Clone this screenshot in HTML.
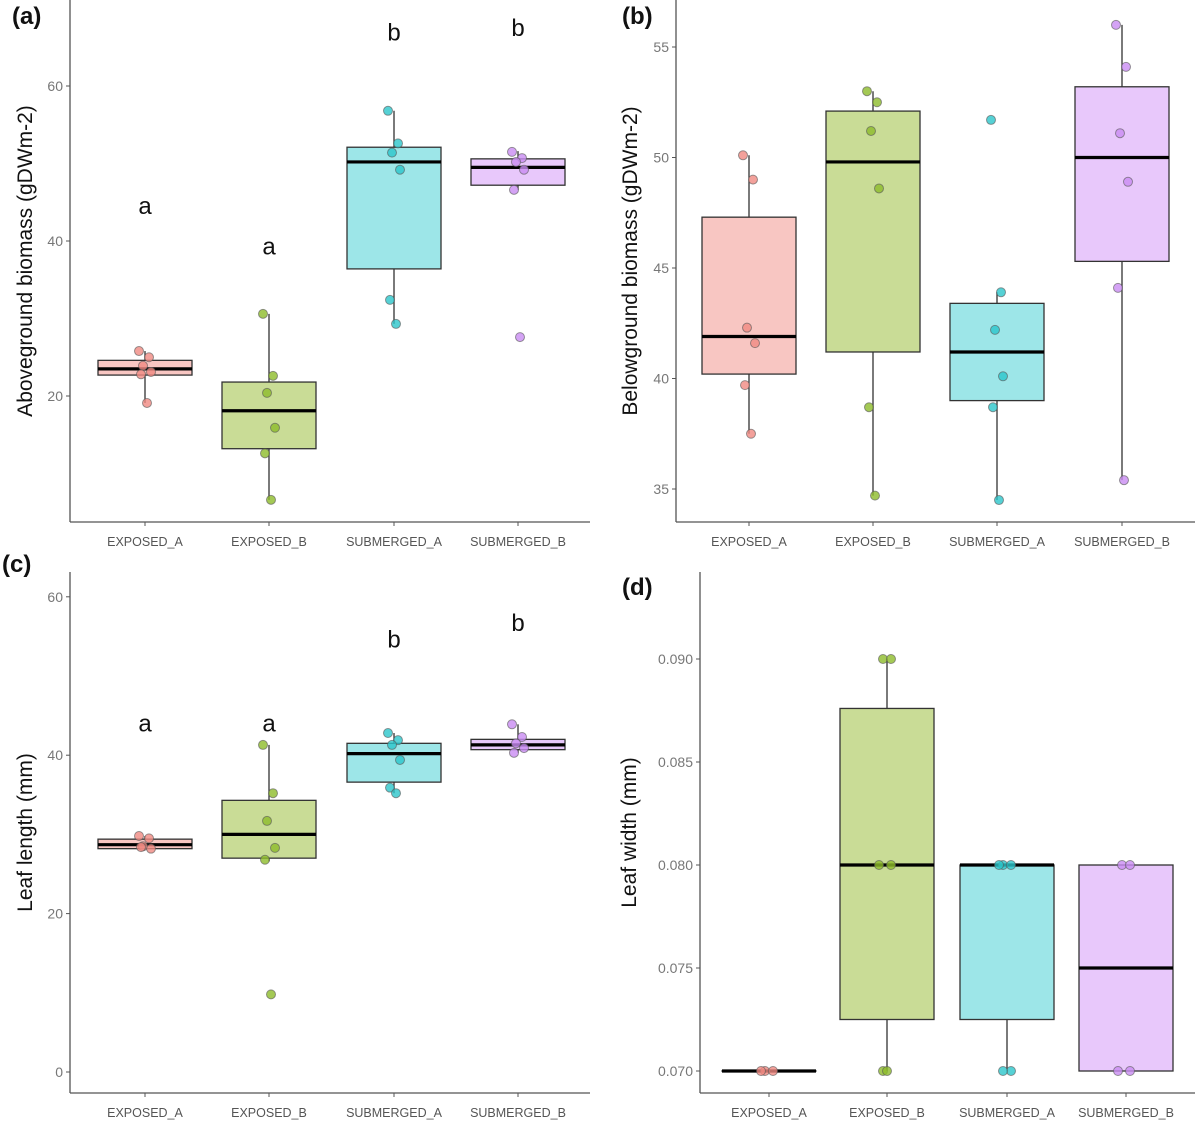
<!DOCTYPE html>
<html><head><meta charset="utf-8"><style>
body{margin:0;background:#fff;width:1200px;height:1122px;overflow:hidden}
svg{display:block;font-family:"Liberation Sans",Arial,sans-serif}
</style></head><body>
<svg id="s" width="1200" height="1122" viewBox="0 0 1200 1122"></svg>
<script>
const categories=["EXPOSED_A","EXPOSED_B","SUBMERGED_A","SUBMERGED_B"];
// panel a
const aLo=[19.1,6.6,29.3,46.6], aQ1=[22.7,13.2,36.4,47.2], aMed=[23.5,18.1,50.2,49.5], aQ3=[24.6,21.8,52.1,50.6], aHi=[25.8,30.6,56.8,51.6];
const aPts=[[25.8,25.0,23.9,23.1,22.8,19.1],[30.6,22.6,20.4,15.9,12.6,6.6],[56.8,52.6,51.4,49.2,32.4,29.3],[51.5,50.7,50.2,49.2,46.6,27.6]];
const aLetters=["a","a","b","b"], aLetterVals=[44.5,39.3,66.9,67.5];
const aTicks=[20,40,60];
// panel b
const bLo=[37.5,34.7,34.5,35.4], bQ1=[40.2,41.2,39.0,45.3], bMed=[41.9,49.8,41.2,50.0], bQ3=[47.3,52.1,43.4,53.2], bHi=[50.1,53.0,43.9,56.0];
const bPts=[[50.1,49.0,42.3,41.6,39.7,37.5],[53.0,52.5,51.2,48.6,38.7,34.7],[51.7,43.9,42.2,40.1,38.7,34.5],[56.0,54.1,51.1,48.9,44.1,35.4]];
const bTicks=[35,40,45,50,55];
// panel c
const cLo=[28.2,26.6,35.2,40.3], cQ1=[28.2,27.0,36.6,40.7], cMed=[28.7,30.0,40.2,41.3], cQ3=[29.4,34.3,41.5,42.0], cHi=[29.8,41.3,42.8,43.9];
const cPts=[[29.8,29.5,28.5,28.2,28.4],[41.3,35.2,31.7,28.3,26.8,9.8],[42.8,41.9,41.3,39.4,35.9,35.2],[43.9,42.3,41.5,40.9,40.3]];
const cLetters=["a","a","b","b"], cLetterVals=[44.0,44.0,54.6,56.7];
const cTicks=[0,20,40,60];
// panel d
const dLo=[0.070,0.070,0.070,0.070], dQ1=[0.070,0.0725,0.0725,0.070], dMed=[0.070,0.080,0.080,0.075], dQ3=[0.070,0.0876,0.080,0.080], dHi=[0.070,0.090,0.080,0.080];
const dPts=[[0.070,0.070,0.070],[0.090,0.090,0.080,0.080,0.070,0.070],[0.080,0.080,0.080,0.070,0.070],[0.080,0.080,0.070,0.070]];
const dTicks=[0.070,0.075,0.080,0.085,0.090];

const fills=["#f8c6c2","#c9dc96","#9de6e8","#e8c8fb"];
const dots=["#f08a82","#8dbb2a","#2cc6ca","#c98cf3"];
const NS="http://www.w3.org/2000/svg";
const svg=document.getElementById('s');
function mk(t,a,p){const e=document.createElementNS(NS,t);for(const k in a)e.setAttribute(k,a[k]);(p||svg).appendChild(e);return e;}
const jit=[-6,4,-2,6,-4,2];

function panel(o){
  const g=mk('g',{});
  
  
  const y=v=>o.y0+(v-o.v0)*o.k;
  const x=i=>o.xc[i];
  // axes
  const ya=mk('line',{x1:o.ax,y1:o.top,x2:o.ax,y2:o.bot,stroke:'#555','stroke-width':1.3},g);
  
  const xa=mk('line',{x1:o.ax,y1:o.bot,x2:o.right,y2:o.bot,stroke:'#555','stroke-width':1.3},g);
  
  o.ticks.forEach(t=>{
    mk('line',{x1:o.ax-4,x2:o.ax,y1:y(t),y2:y(t),stroke:'#555'},g);
    const tx=mk('text',{x:o.ax-7,y:y(t)+5,'text-anchor':'end','font-size':14,fill:'#777'},g);
    tx.textContent=o.fmt(t);
    
  });
  categories.forEach((c,i)=>{
    mk('line',{x1:x(i),x2:x(i),y1:o.bot,y2:o.bot+4,stroke:'#555'},g);
    const tx=mk('text',{x:x(i),y:o.bot+24,'text-anchor':'middle','font-size':12.5,fill:'#555'},g);
    tx.textContent=c;
    
  });
  const yt=mk('text',{transform:`translate(${o.ytx},${(o.top+o.bot)/2}) rotate(-90)`,'text-anchor':'middle','font-size':21,fill:'#111'},g);
  yt.textContent=o.title;
  const pl=mk('text',{x:o.lx,y:o.ly,'font-size':24,'font-weight':'bold',fill:'#111'},g);
  pl.textContent=o.label;
  const w=47;
  categories.forEach((c,i)=>{
    const wl=mk('line',{x1:x(i),x2:x(i),y1:y(o.hi[i]),y2:y(o.lo[i]),stroke:'#333','stroke-width':1.3},g);
    
    const r=mk('rect',{x:x(i)-w,width:2*w,y:y(o.q3[i]),height:Math.max(0.01,y(o.q1[i])-y(o.q3[i])),fill:fills[i],stroke:'#333','stroke-width':1.3},g);
    
    const m=mk('line',{x1:x(i)-w,x2:x(i)+w,y1:y(o.med[i]),y2:y(o.med[i]),stroke:'#000','stroke-width':3.2},g);
    
  });
  categories.forEach((c,i)=>{
    o.pts[i].forEach((v,j)=>{
      const p=mk('circle',{cx:x(i)+(o.jit?o.jit(i,j):jit[j%6]),cy:y(v),r:4.5,fill:dots[i],'fill-opacity':0.8,stroke:'#555','stroke-opacity':0.6},g);
      
    });
  });
  if(o.letters) o.letters.forEach((l,i)=>{
    const t=mk('text',{x:x(i),y:y(o.letterVals[i])+8,'text-anchor':'middle','font-size':24,fill:'#111'},g);
    t.textContent=l;
  });
}
const fmt0=t=>String(t), fmt3=t=>t.toFixed(3);
panel({name:'panel-a',ax:70,top:0,bot:522,right:590,y0:551,v0:0,k:-7.75,xc:[145,269,394,518],ticks:aTicks,fmt:fmt0,
  title:'Aboveground biomass (gDWm-2)',ytx:32,label:'(a)',lx:12,ly:24,lo:aLo,q1:aQ1,med:aMed,q3:aQ3,hi:aHi,pts:aPts,letters:aLetters,letterVals:aLetterVals});
panel({name:'panel-b',ax:676,top:0,bot:522,right:1195,y0:489,v0:35,k:-22.1,xc:[749,873,997,1122],ticks:bTicks,fmt:fmt0,
  title:'Belowground biomass (gDWm-2)',ytx:637,label:'(b)',lx:622,ly:24,lo:bLo,q1:bQ1,med:bMed,q3:bQ3,hi:bHi,pts:bPts});
panel({name:'panel-c',ax:70,top:572,bot:1093,right:590,y0:1072,v0:0,k:-7.92,xc:[145,269,394,518],ticks:cTicks,fmt:fmt0,
  title:'Leaf length (mm)',ytx:32,label:'(c)',lx:2,ly:572,lo:cLo,q1:cQ1,med:cMed,q3:cQ3,hi:cHi,pts:cPts,letters:cLetters,letterVals:cLetterVals});
panel({name:'panel-d',ax:700,top:572,bot:1093,right:1195,y0:1071,v0:0.070,k:-20600,xc:[769,887,1007,1126],ticks:dTicks,fmt:fmt3,
  title:'Leaf width (mm)',ytx:636,label:'(d)',lx:622,ly:595,lo:dLo,q1:dQ1,med:dMed,q3:dQ3,hi:dHi,pts:dPts,jit:(i,j)=>(j%2?4:-4)+(j%3===2?-4:0)});
</script>
</body></html>
